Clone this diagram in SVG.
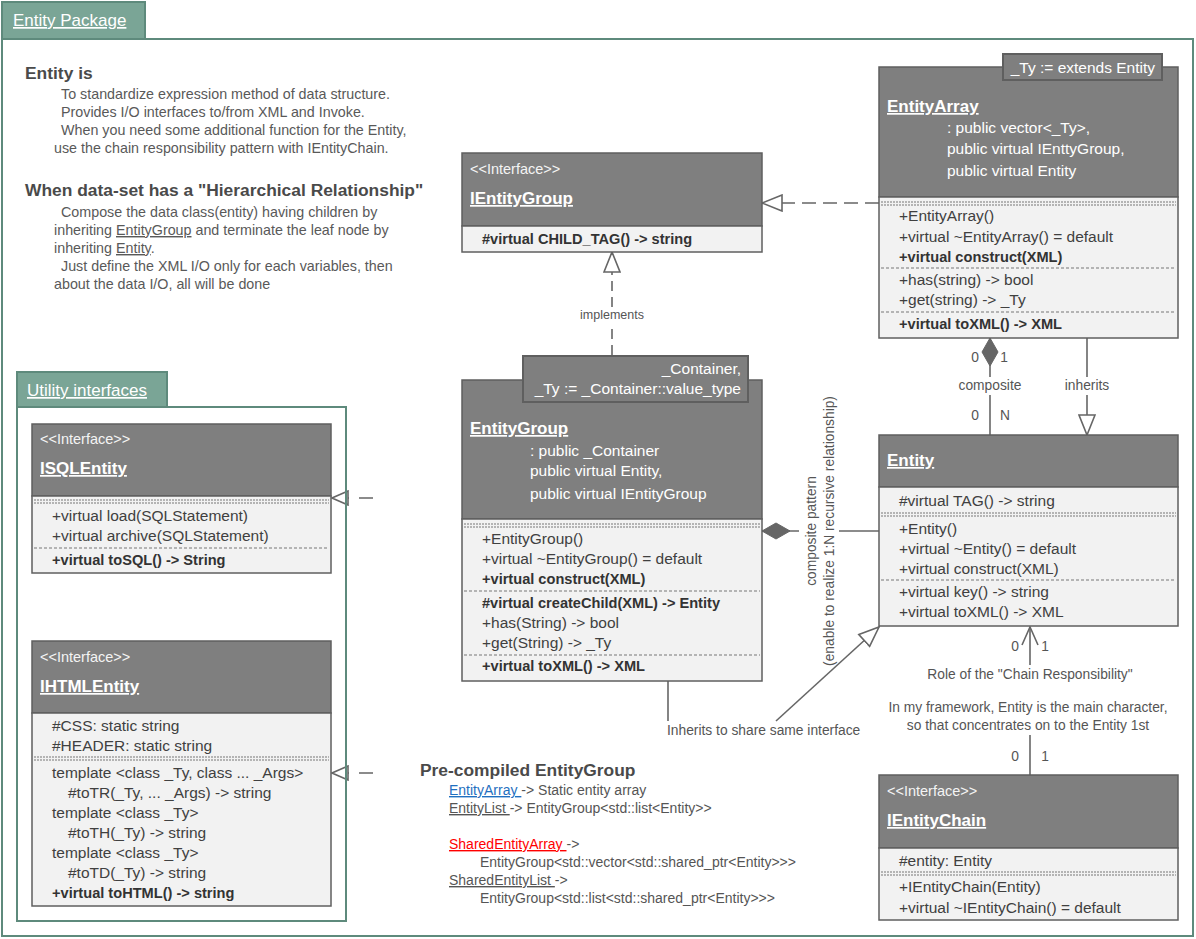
<svg xmlns="http://www.w3.org/2000/svg" width="1196" height="939" viewBox="0 0 1196 939">
<style>
text{font-family:"Liberation Sans",Arial,sans-serif;}
.hd{fill:#7f7f7f;stroke:#5f5f5f;stroke-width:1.5}
.bd{fill:#f2f2f2;stroke:#5f5f5f;stroke-width:1.5}
.tp{fill:#7f7f7f;stroke:#5f5f5f;stroke-width:2}
.st{font-size:14.5px;fill:#f4f4f4}
.ti{font-size:17px;font-weight:bold;fill:#ffffff;text-decoration:underline}
.ht{font-size:15.5px;fill:#ffffff}
.m{font-size:15.5px;fill:#404040}
.mb{font-size:14.6px;fill:#333333;font-weight:bold}
.dd{stroke:#777;stroke-width:1;stroke-dasharray:2,1;fill:none}
.sd{stroke:#777;stroke-width:1;stroke-dasharray:3,2;fill:none}
.ln{stroke:#666;stroke-width:1.6;fill:none}
.dl{stroke:#666;stroke-width:1.6;fill:none;stroke-dasharray:14,7}
.lb{font-size:12.5px;fill:#555}
.lbl{font-size:13.8px;fill:#555}
.desc{font-size:14.3px;fill:#595959}
.h2{font-size:17.4px;font-weight:bold;fill:#4a4a4a}
.pk{fill:#7aa596;stroke:#5e8a7c;stroke-width:2}
.fr{fill:none;stroke:#5e8a7c;stroke-width:2}
.pt{font-size:17px;fill:#ffffff;text-decoration:underline}
.pc{font-size:14px;fill:#555}
</style>
<defs>
<marker id="tri" markerUnits="userSpaceOnUse" markerWidth="22" markerHeight="18" refX="20" refY="8" orient="auto" viewBox="-1 -1 22 18">
<path d="M0,0 L20,8 L0,16 z" fill="#fff" stroke="#666" stroke-width="1.6"/>
</marker>
<marker id="tris" markerUnits="userSpaceOnUse" markerWidth="18" markerHeight="16" refX="16" refY="7" orient="auto" viewBox="-1 -1 18 16">
<path d="M0,0 L16,7 L0,14 z" fill="#fff" stroke="#666" stroke-width="1.6"/>
</marker>
<marker id="dia" markerUnits="userSpaceOnUse" markerWidth="30" markerHeight="18" refX="0" refY="8" orient="auto" viewBox="0 -1 30 18">
<path d="M0,8 L14,0 L28,8 L14,16 z" fill="#666" stroke="#666" stroke-width="1"/>
</marker>
<marker id="opn" markerUnits="userSpaceOnUse" markerWidth="20" markerHeight="18" refX="18" refY="8" orient="auto" viewBox="-1 -1 20 18">
<path d="M0,0 L18,8 L0,16" fill="none" stroke="#666" stroke-width="1.6"/>
</marker>
</defs>

<g id="entity-package">
<rect class="fr" x="2" y="39" width="1191" height="897"/>
<rect class="pk" x="2" y="2" width="143" height="37"/>
<text class="pt" x="13" y="26">Entity Package</text>
</g>

<g id="description">
<text class="h2" x="25" y="79">Entity is</text>
<text class="desc" x="61" y="99">To standardize expression method of data structure.</text>
<text class="desc" x="61" y="117">Provides I/O interfaces to/from XML and Invoke.</text>
<text class="desc" x="61" y="135">When you need some additional function for the Entity,</text>
<text class="desc" x="54" y="153">use the chain responsibility pattern with IEntityChain.</text>
<text class="h2" x="25" y="196">When data-set has a "Hierarchical Relationship"</text>
<text class="desc" x="61" y="217">Compose the data class(entity) having children by</text>
<text class="desc" x="54" y="235">inheriting <tspan text-decoration="underline">EntityGroup</tspan> and terminate the leaf node by</text>
<text class="desc" x="54" y="253">inheriting <tspan text-decoration="underline">Entity</tspan>.</text>
<text class="desc" x="61" y="271">Just define the XML I/O only for each variables, then</text>
<text class="desc" x="54" y="289">about the data I/O, all will be done</text>
</g>

<g id="connectors">
<line class="dl" x1="879" y1="203" x2="762" y2="203" marker-end="url(#tri)"/>
<line class="ln" x1="612" y1="355" x2="612" y2="252" stroke-dasharray="10,6" marker-end="url(#tri)"/>
<rect x="574" y="307" width="76" height="16" fill="#fff"/>
<text class="lb" x="612" y="319" text-anchor="middle">implements</text>
<line class="ln" x1="990" y1="338" x2="990" y2="435" marker-start="url(#dia)"/>
<rect x="952" y="377" width="76" height="18" fill="#fff"/>
<text class="lbl" x="990" y="390" text-anchor="middle">composite</text>
<text class="lbl" x="975" y="362" text-anchor="middle">0</text>
<text class="lbl" x="1004" y="362" text-anchor="middle">1</text>
<text class="lbl" x="975" y="420" text-anchor="middle">0</text>
<text class="lbl" x="1005" y="420" text-anchor="middle" fill="#5a7a9a">N</text>
<line class="ln" x1="1087" y1="338" x2="1087" y2="435" marker-end="url(#tri)"/>
<rect x="1056" y="377" width="62" height="18" fill="#fff"/>
<text class="lbl" x="1087" y="390" text-anchor="middle">inherits</text>
<line class="ln" x1="762" y1="531" x2="879" y2="531" marker-start="url(#dia)"/>
<rect x="799" y="392" width="40" height="280" fill="#fff"/>
<text class="lbl" transform="translate(816,531) rotate(-90)" text-anchor="middle">composite pattern</text>
<text class="lbl" transform="translate(834,531) rotate(-90)" text-anchor="middle">(enable to realize 1:N recursive relationship)</text>
<polyline class="ln" points="668,681 668,721"/>
<line class="ln" x1="776" y1="721" x2="879" y2="627" marker-end="url(#tri)"/>
<text class="lbl" x="667" y="735">Inherits to share same interface</text>
<line class="ln" x1="1030" y1="665" x2="1030" y2="627" marker-end="url(#opn)"/>
<line class="ln" x1="1030" y1="735" x2="1030" y2="775"/>
<text class="lbl" x="1015" y="651" text-anchor="middle">0</text>
<text class="lbl" x="1045" y="651" text-anchor="middle">1</text>
<text class="lbl" x="1030" y="679" text-anchor="middle">Role of the "Chain Responsibility"</text>
<text class="lbl" x="1028" y="712" text-anchor="middle">In my framework, Entity is the main character,</text>
<text class="lbl" x="1028" y="730" text-anchor="middle">so that concentrates on to the Entity 1st</text>
<text class="lbl" x="1015" y="761" text-anchor="middle">0</text>
<text class="lbl" x="1045" y="761" text-anchor="middle">1</text>
<line class="ln" x1="373" y1="498" x2="332" y2="498" stroke-dasharray="14,10" marker-end="url(#tris)"/>
<line class="ln" x1="373" y1="773" x2="332" y2="773" stroke-dasharray="14,10" marker-end="url(#tris)"/>
</g>

<g id="IEntityGroup">
<rect class="hd" x="462" y="153" width="300" height="73"/>
<rect class="bd" x="462" y="226" width="300" height="26"/>
<text class="st" x="470" y="174">&lt;&lt;Interface&gt;&gt;</text>
<text class="ti" x="470" y="204">IEntityGroup</text>
<text class="mb" x="482" y="244">#virtual CHILD_TAG() -&gt; string</text>
</g>

<g id="EntityArray">
<rect class="hd" x="879" y="67" width="299" height="130"/>
<rect class="bd" x="879" y="197" width="299" height="141"/>
<rect class="tp" x="1003" y="54" width="159" height="26"/>
<text class="ht" x="1155" y="73" text-anchor="end">_Ty := extends Entity</text>
<text class="ti" x="887" y="112">EntityArray</text>
<text class="ht" x="947" y="133">: public vector&lt;_Ty&gt;,</text>
<text class="ht" x="947" y="154">public virtual IEnttyGroup,</text>
<text class="ht" x="947" y="176">public virtual Entity</text>
<line class="dd" x1="881" y1="202" x2="1176" y2="202"/>
<line class="dd" x1="881" y1="205" x2="1176" y2="205"/>
<text class="m" x="899" y="221">+EntityArray()</text>
<text class="m" x="899" y="242">+virtual ~EntityArray() = default</text>
<text class="mb" x="899" y="262">+virtual construct(XML)</text>
<line class="sd" x1="881" y1="268" x2="1176" y2="268"/>
<text class="m" x="899" y="285">+has(string) -&gt; bool</text>
<text class="m" x="899" y="305">+get(string) -&gt; _Ty</text>
<line class="sd" x1="881" y1="312" x2="1176" y2="312"/>
<text class="mb" x="899" y="329">+virtual toXML() -&gt; XML</text>
</g>

<g id="EntityGroup">
<rect class="hd" x="462" y="380" width="300" height="139"/>
<rect class="bd" x="462" y="519" width="300" height="162"/>
<rect class="tp" x="523" y="356" width="225" height="46"/>
<text class="ht" x="741" y="374" text-anchor="end">_Container,</text>
<text class="ht" x="741" y="394" text-anchor="end">_Ty := _Container::value_type</text>
<text class="ti" x="470" y="434">EntityGroup</text>
<text class="ht" x="530" y="456">: public _Container</text>
<text class="ht" x="530" y="476">public virtual Entity,</text>
<text class="ht" x="530" y="499">public virtual IEntityGroup</text>
<line class="dd" x1="464" y1="524" x2="760" y2="524"/>
<line class="dd" x1="464" y1="527" x2="760" y2="527"/>
<text class="m" x="482" y="544">+EntityGroup()</text>
<text class="m" x="482" y="564">+virtual ~EntityGroup() = default</text>
<text class="mb" x="482" y="584">+virtual construct(XML)</text>
<line class="sd" x1="464" y1="591" x2="760" y2="591"/>
<text class="mb" x="482" y="608">#virtual createChild(XML) -&gt; Entity</text>
<text class="m" x="482" y="628">+has(String) -&gt; bool</text>
<text class="m" x="482" y="648">+get(String) -&gt; _Ty</text>
<line class="sd" x1="464" y1="655" x2="760" y2="655"/>
<text class="mb" x="482" y="671">+virtual toXML() -&gt; XML</text>
</g>

<g id="Entity">
<rect class="hd" x="879" y="435" width="299" height="52"/>
<rect class="bd" x="879" y="487" width="299" height="139"/>
<text class="ti" x="887" y="466">Entity</text>
<text class="m" x="899" y="506">#virtual TAG() -&gt; string</text>
<line class="dd" x1="881" y1="513" x2="1176" y2="513"/>
<line class="dd" x1="881" y1="516" x2="1176" y2="516"/>
<text class="m" x="899" y="534">+Entity()</text>
<text class="m" x="899" y="554">+virtual ~Entity() = default</text>
<text class="m" x="899" y="574">+virtual construct(XML)</text>
<line class="sd" x1="881" y1="580" x2="1176" y2="580"/>
<text class="m" x="899" y="597">+virtual key() -&gt; string</text>
<text class="m" x="899" y="617">+virtual toXML() -&gt; XML</text>
</g>

<g id="IEntityChain">
<rect class="hd" x="879" y="775" width="299" height="73"/>
<rect class="bd" x="879" y="848" width="299" height="72"/>
<text class="st" x="887" y="796">&lt;&lt;Interface&gt;&gt;</text>
<text class="ti" x="887" y="826">IEntityChain</text>
<text class="m" x="899" y="866">#entity: Entity</text>
<line class="dd" x1="881" y1="872" x2="1176" y2="872"/>
<line class="dd" x1="881" y1="875" x2="1176" y2="875"/>
<text class="m" x="899" y="892">+IEntityChain(Entity)</text>
<text class="m" x="899" y="913">+virtual ~IEntityChain() = default</text>
</g>

<g id="utility-interfaces">
<rect class="fr" x="17" y="407" width="329" height="514"/>
<rect class="pk" x="17" y="372" width="150" height="35"/>
<text class="pt" x="27" y="396" font-size="16.5">Utility interfaces</text>
</g>

<g id="ISQLEntity">
<rect class="hd" x="32" y="424" width="299" height="72"/>
<rect class="bd" x="32" y="496" width="299" height="77"/>
<text class="st" x="40" y="444">&lt;&lt;Interface&gt;&gt;</text>
<text class="ti" x="40" y="474">ISQLEntity</text>
<line class="dd" x1="34" y1="500" x2="329" y2="500"/>
<line class="dd" x1="34" y1="503" x2="329" y2="503"/>
<text class="m" x="52" y="521">+virtual load(SQLStatement)</text>
<text class="m" x="52" y="541">+virtual archive(SQLStatement)</text>
<line class="sd" x1="34" y1="548" x2="329" y2="548"/>
<text class="mb" x="52" y="565">+virtual toSQL() -&gt; String</text>
</g>

<g id="IHTMLEntity">
<rect class="hd" x="32" y="641" width="299" height="72"/>
<rect class="bd" x="32" y="713" width="299" height="193"/>
<text class="st" x="40" y="662">&lt;&lt;Interface&gt;&gt;</text>
<text class="ti" x="40" y="692">IHTMLEntity</text>
<text class="m" x="52" y="731">#CSS: static string</text>
<text class="m" x="52" y="751">#HEADER: static string</text>
<line class="dd" x1="34" y1="757" x2="329" y2="757"/>
<line class="dd" x1="34" y1="760" x2="329" y2="760"/>
<text class="m" x="52" y="778">template &lt;class _Ty, class ... _Args&gt;</text>
<text class="m" x="68" y="798">#toTR(_Ty, ... _Args) -&gt; string</text>
<text class="m" x="52" y="818">template &lt;class _Ty&gt;</text>
<text class="m" x="68" y="838">#toTH(_Ty) -&gt; string</text>
<text class="m" x="52" y="858">template &lt;class _Ty&gt;</text>
<text class="m" x="68" y="878">#toTD(_Ty) -&gt; string</text>
<text class="mb" x="52" y="898">+virtual toHTML() -&gt; string</text>
</g>

<g id="precompiled">
<text class="h2" x="420" y="776">Pre-compiled EntityGroup</text>
<text class="pc" x="449" y="795"><tspan fill="#1f6fc0" text-decoration="underline">EntityArray </tspan>-&gt; Static entity array</text>
<text class="pc" x="449" y="813"><tspan text-decoration="underline">EntityList </tspan>-&gt; EntityGroup&lt;std::list&lt;Entity&gt;&gt;</text>
<text class="pc" x="449" y="849"><tspan fill="#ff0000" text-decoration="underline">SharedEntityArray </tspan>-&gt;</text>
<text class="pc" x="480" y="867">EntityGroup&lt;std::vector&lt;std::shared_ptr&lt;Entity&gt;&gt;&gt;</text>
<text class="pc" x="449" y="885"><tspan text-decoration="underline">SharedEntityList </tspan>-&gt;</text>
<text class="pc" x="480" y="903">EntityGroup&lt;std::list&lt;std::shared_ptr&lt;Entity&gt;&gt;&gt;</text>
</g>
</svg>
